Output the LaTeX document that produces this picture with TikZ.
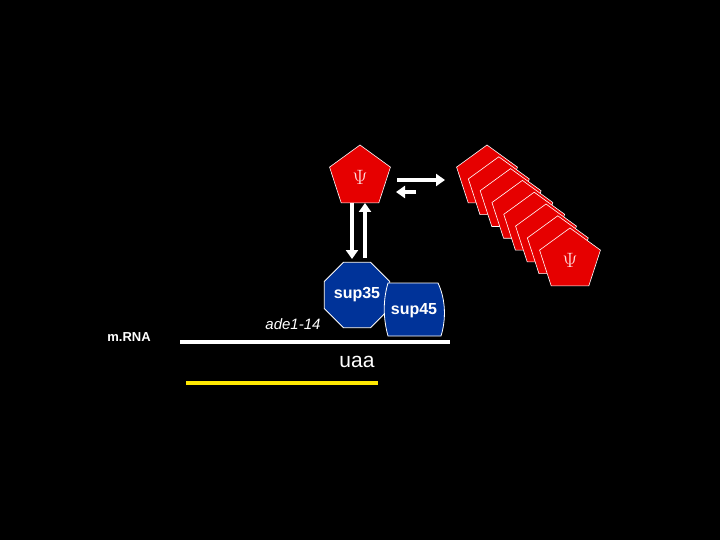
\documentclass[tikz,border=0pt]{standalone}
\usepackage{fontspec}
\setmainfont{Liberation Sans}
\usetikzlibrary{shapes.geometric,arrows.meta}
\begin{document}
\begin{tikzpicture}[x=1pt,y=-1pt,
  pent/.style={regular polygon,regular polygon sides=5,minimum size=64pt,inner sep=0pt,fill={rgb,255:red,230;green,0;blue,0},draw=white,line width=0.6pt,text={rgb,255:red,255;green,220;blue,220},font=\fontsize{20}{22}\selectfont},
  arr/.style={white,line width=4pt,-{Triangle[length=9pt,width=12pt]}},
  bluefill/.style={fill={rgb,255:red,0;green,51;blue,153},draw=white,line width=0.8pt}]
\fill[black] (0,0) rectangle (720,540);
\useasboundingbox (0,0) rectangle (720,540);
\node[pent] (p) at (360,177) {$\Psi$};
\foreach \i in {0,...,6}{
  \node[pent] (s\i) at (487+11.8*\i,177+11.8*\i) {};
}
\node[pent] (s7) at (570,260) {$\Psi$};
\coordinate (r1) at (397,180); \coordinate (r2) at (445,180);
\coordinate (l1) at (416,192); \coordinate (l2) at (396,192);
\draw[arr] (r1) -- (r2);
\draw[arr] (l1) -- (l2);
\coordinate (d1) at (352,203); \coordinate (d2) at (352,259);
\coordinate (u1) at (365,258); \coordinate (u2) at (365,203);
\draw[arr] (d1) -- (d2);
\draw[arr] (u1) -- (u2);
\node[regular polygon,regular polygon sides=8,minimum size=57pt,bluefill,text=white,font=\bfseries\fontsize{16}{18}\selectfont,inner sep=0pt] (a) at (357,295) {sup35};
\draw[bluefill] (388,283) -- (438,283) .. controls (446,300) and (446,320) .. (441,336) -- (388,336) .. controls (383,318) and (383,300) .. (388,283) -- cycle;
\node[text=white,font=\bfseries\fontsize{16}{18}\selectfont] (b) at (414,311) {sup45};
\coordinate (w1) at (180,342); \coordinate (w2) at (450,342);
\draw[white,line width=4pt] (w1) -- (w2);
\coordinate (y1) at (186,383); \coordinate (y2) at (378,383);
\draw[yellow!90!orange,line width=4pt] (y1) -- (y2);
\node[text=white,font=\bfseries\fontsize{13}{15}\selectfont] (m) at (129,337) {m.RNA};
\node[text=white,font=\itshape\fontsize{15}{17}\selectfont] (ade) at (293,324) {ade1-14};
\node[text=white,font=\fontsize{21}{23}\selectfont] (u) at (357,362) {uaa};
\end{tikzpicture}
\end{document}
